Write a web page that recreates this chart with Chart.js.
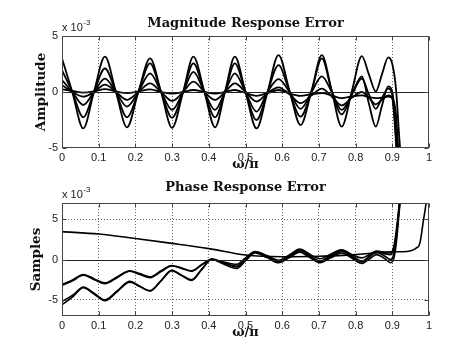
<!DOCTYPE html>
<html><head><meta charset="utf-8">
<script src="https://cdn.jsdelivr.net/npm/chart.js@4/dist/chart.umd.min.js"></script>
<style>
html,body{margin:0;padding:0;background:#fff;}
#wrap{position:relative;width:474px;height:355px;background:#fff;}
canvas{position:absolute;left:0;}
</style></head><body>
<div id="wrap">
<canvas id="c1" width="474" height="177" style="top:0"></canvas>
<canvas id="c2" width="474" height="178" style="top:177px"></canvas>
</div>
<script>
// ---- tick labels ----
const X_TICKS = [0, 0.1, 0.2, 0.3, 0.4, 0.5, 0.6, 0.7, 0.8, 0.9, 1];
const MAG_Y_TICKS = [-5, 0, 5];
const PH_Y_TICKS = [-5, 0, 5];

// ---- Magnitude Response Error (x 10^-3) ----
const MAG_X = [0, .028, .058, .087, .117, .147, .177, .208, .24, .27, .3, .33, .358, .388, .417, .444, .471, .5, .53, .56, .59, .62, .65, .68, .708, .735, .762, .79, .817, .836, .855, .872, .889, .9, .91, .92, .935];
const MAG_A = [3.0, 0, -3.25, 0, 3.15, 0, -3.15, 0, 3.0, 0, -3.2, 0, 3.15, 0, -3.15, 0, 3.15, 0, -3.25, 0, 3.3, 0.1, -2.95, 0.1, 3.3, 0.1, -3.1, 0.1, 3.2, 1.6, 0.05, 1.6, 3.1, 2.5, 0.3, -4.5, -10];
const MAG_B = [1.96, 0, -2.26, 0, 2.1, 0, -2.26, 0, 2.56, 0, -2.3, 0, 2.56, 0, -2.26, 0, 2.56, 0, -2.5, 0, 2.4, 0, -2.2, 0.1, 3.0, 0.1, -2.0, -0.2, 1.4, -1.0, -3.1, -1.2, 0.5, 0.0, -3.5, -9, -14];
const MAG_C = [1.07, 0, -1.16, 0, 1.2, 0, -1.3, 0, 1.67, 0, -1.6, 0, 1.8, 0, -1.6, 0, 1.67, 0, -1.75, 0, 1.15, 0, -1.5, 0, 1.4, 0, -1.6, -0.2, 1.2, -0.2, -1.5, -0.5, 0.3, -0.3, -4, -10, -14];
const MAG_D = [0.6, 0, -0.42, 0, 0.65, 0, -0.7, 0, 0.77, 0, -0.8, 0, 0.92, 0, -0.7, 0, 0.77, 0, -0.85, -0.1, 0.42, -0.2, -1.0, -0.3, 0.3, -0.4, -1.2, -0.5, 0.0, -0.5, -1.1, -0.7, -0.3, -0.6, -4.5, -11, -14];
const MAG_E = [0.24, 0.1, -0.06, 0.05, 0.25, 0.05, -0.1, 0.05, 0.24, 0, -0.15, 0, 0.18, 0, -0.15, 0, 0.18, -0.1, -0.35, -0.1, 0.18, -0.15, -0.35, -0.2, -0.1, -0.3, -0.55, -0.4, -0.3, -0.45, -0.55, -0.5, -0.4, -0.5, -2, -7, -12];

// ---- Phase Response Error (x 10^-3) ----
const PH_X = [0, .03, .058, .088, .117, .15, .185, .212, .24, .27, .299, .326, .353, .38, .408, .44, .476, .5, .526, .56, .59, .62, .648, .675, .703, .732, .762, .79, .817, .837, .857, .88, .895, .905, .912, .918, .925];
const PH_G1 = [-3.2, -2.6, -1.96, -2.5, -3.0, -2.25, -1.46, -1.85, -2.25, -1.5, -0.8, -1.1, -1.46, -0.7, 0.0, -0.4, -0.83, 0.05, 0.95, 0.35, -0.3, 0.45, 1.2, 0.5, -0.2, 0.5, 1.16, 0.45, -0.2, 0.4, 1.0, 0.7, 0.6, 1.5, 3.5, 6, 9];
const PH_G2 = [-3.1, -2.5, -1.85, -2.4, -2.9, -2.15, -1.4, -1.75, -2.15, -1.4, -0.75, -1.05, -1.4, -0.65, 0.05, -0.3, -0.6, 0.2, 1.0, 0.45, -0.1, 0.6, 1.3, 0.65, 0.1, 0.65, 1.2, 0.6, 0.2, 0.6, 1.05, 0.9, 0.8, 1.8, 4, 6.5, 10];
const PH_H1 = [-5.6, -4.6, -3.5, -4.3, -5.1, -4.0, -2.8, -3.35, -3.9, -2.65, -1.4, -2.0, -2.6, -1.3, 0.0, -0.55, -1.1, -0.15, 0.8, 0.2, -0.4, 0.25, 0.9, 0.25, -0.4, 0.2, 0.8, 0.15, -0.5, 0.05, 0.6, 0.1, -0.4, 0.3, 2.5, 5.5, 9];
const PH_H2 = [-5.2, -4.4, -3.4, -4.2, -5.0, -3.9, -2.7, -3.3, -3.85, -2.6, -1.35, -1.95, -2.5, -1.25, 0.05, -0.45, -0.9, -0.05, 0.9, 0.3, -0.3, 0.4, 1.05, 0.4, -0.3, 0.3, 1.0, 0.3, -0.3, 0.3, 0.9, 0.4, 0.0, 0.8, 3.2, 6.2, 9.5];
const PH_F_X = [0, 0.1, 0.2, 0.3, 0.4, 0.5, 0.6, 0.7, 0.8, 0.85, 0.9, 0.94, 0.955, 0.965, 0.975, 0.985, 0.992, 1.0];
const PH_F = [3.45, 3.15, 2.6, 2.0, 1.35, 0.55, 0.35, 0.4, 0.6, 0.8, 0.95, 1.0, 1.15, 1.4, 2.0, 4.9, 7.0, 11];

const pts = (xs, ys) => xs.map((x, i) => ({x: x, y: ys[i]}));

const framePlugin = {
  id: 'frame',
  afterDatasetsDraw(chart) {
    const {ctx, chartArea: a, scales: {x, y}} = chart;
    ctx.save();
    // zero line
    ctx.strokeStyle = '#222'; ctx.lineWidth = 1; ctx.setLineDash([]);
    const y0 = Math.round(y.getPixelForValue(0)) + 0.5;
    ctx.beginPath(); ctx.moveTo(a.left, y0); ctx.lineTo(a.right, y0); ctx.stroke();
    // box
    ctx.strokeStyle = '#444';
    const L = Math.round(a.left) + 0.5, R = Math.round(a.right) - 0.5, T = Math.round(a.top) + 0.5, B = Math.round(a.bottom) - 0.5;
    ctx.strokeRect(L, T, R - L, B - T);
    // inner tick marks
    ctx.beginPath();
    x.ticks.forEach(t => {
      const px = Math.round(x.getPixelForValue(t.value)) + 0.5;
      ctx.moveTo(px, B); ctx.lineTo(px, B - 4);
      ctx.moveTo(px, T); ctx.lineTo(px, T + 4);
    });
    y.ticks.forEach(t => {
      const py = Math.round(y.getPixelForValue(t.value)) + 0.5;
      ctx.moveTo(L, py); ctx.lineTo(L + 4, py);
      ctx.moveTo(R, py); ctx.lineTo(R - 4, py);
    });
    ctx.stroke();
    // exponent label
    ctx.fillStyle = '#222';
    ctx.textBaseline = 'alphabetic';
    ctx.font = '11px "Liberation Sans"';
    ctx.fillText('x 10', a.left, a.top - 5);
    const w = ctx.measureText('x 10').width;
    ctx.font = '8px "Liberation Sans"';
    ctx.fillText('-3', a.left + w + 0.5, a.top - 11);
    ctx.restore();
  }
};

function makeChart(id, cfg) {
  const lineDs = cfg.series.map(s => ({
    data: s,
    borderColor: '#000',
    borderWidth: cfg.lw,
    pointRadius: 0,
    fill: false,
    cubicInterpolationMode: 'monotone'
  }));
  return new Chart(document.getElementById(id), {
    type: 'line',
    data: {datasets: lineDs},
    plugins: [framePlugin],
    options: {
      responsive: false,
      animation: false,
      events: [],
      layout: {padding: {left: 0, right: 45, top: 0, bottom: 0}},
      plugins: {
        legend: {display: false},
        tooltip: {enabled: false},
        title: {
          display: true,
          fullSize: false,
          text: cfg.title,
          color: '#111',
          font: {family: '"DejaVu Serif"', weight: 'bold', size: 13},
          padding: cfg.titlePad
        }
      },
      scales: {
        x: {
          type: 'linear', min: 0, max: 1,
          afterBuildTicks: s => { s.ticks = X_TICKS.map(v => ({value: v})); },
          afterFit: s => { s.height = cfg.xh; },
          ticks: {
            color: '#222', padding: 3, maxRotation: 0, autoSkip: false,
            font: {family: '"Liberation Sans"', size: 11},
            callback: v => String(Number(v.toFixed(1)))
          },
          grid: {
            drawTicks: false,
            color: c => (c.tick && (c.tick.value === 0 || c.tick.value === 1)) ? 'rgba(0,0,0,0)' : '#666',
            lineWidth: 1
          },
          border: {display: false, dash: [1, 2]},
          title: {
            display: true, text: 'ω/π', color: '#111',
            font: {family: '"DejaVu Serif"', weight: 'bold', size: 13},
            padding: {top: 0, bottom: cfg.xTitlePad}
          }
        },
        y: {
          type: 'linear', min: cfg.ymin, max: cfg.ymax,
          afterBuildTicks: s => { s.ticks = cfg.yticks.map(v => ({value: v})); },
          afterFit: s => { s.width = 62; },
          ticks: {
            color: '#222', padding: 4,
            font: {family: '"Liberation Sans"', size: 11},
            callback: v => String(v)
          },
          grid: {
            drawTicks: false,
            color: c => (cfg.ygrid && c.tick && c.tick.value !== 0) ? '#666' : 'rgba(0,0,0,0)',
            lineWidth: 1
          },
          border: {display: false, dash: [1, 2]},
          title: {
            display: true, text: cfg.ytitle, color: '#111',
            font: {family: '"DejaVu Serif"', weight: 'bold', size: 13.5},
            padding: {top: cfg.yTitleOff, bottom: 0}
          }
        }
      }
    }
  });
}

makeChart('c1', {
  title: 'Magnitude Response Error',
  titlePad: {top: 16, bottom: 4.4},
  xh: 29, xTitlePad: 4.2,
  ymin: -5, ymax: 5, yticks: MAG_Y_TICKS, ygrid: false,
  ytitle: 'Amplitude', yTitleOff: 33, lw: 1.8,
  series: [pts(MAG_X, MAG_A), pts(MAG_X, MAG_B), pts(MAG_X, MAG_C), pts(MAG_X, MAG_D), pts(MAG_X, MAG_E)]
});

makeChart('c2', {
  title: 'Phase Response Error',
  titlePad: {top: 3.2, bottom: 7.2},
  xh: 39, xTitlePad: 14.2,
  ymin: -7, ymax: 7, yticks: PH_Y_TICKS, ygrid: true,
  ytitle: 'Samples', yTitleOff: 28, lw: 1.6,
  series: [pts(PH_X, PH_G1), pts(PH_X, PH_G2), pts(PH_X, PH_H1), pts(PH_X, PH_H2), pts(PH_F_X, PH_F)]
});
</script>
</body></html>
